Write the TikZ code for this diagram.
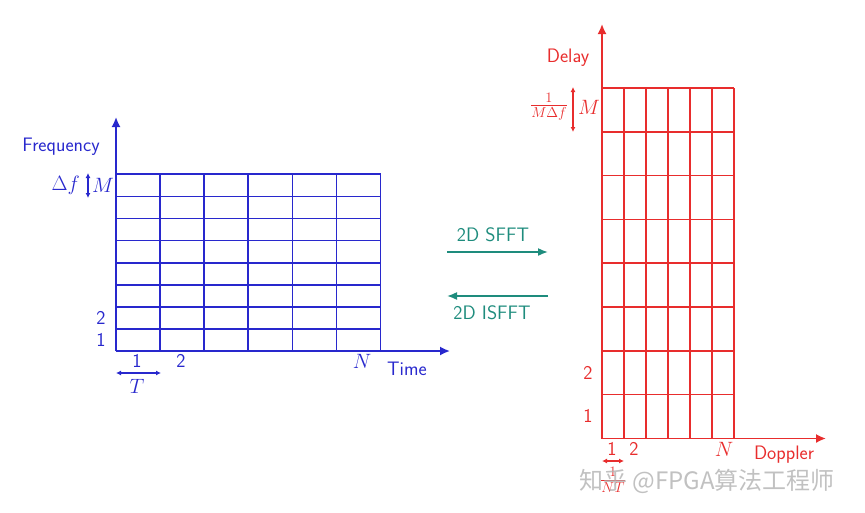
\documentclass[tikz,border=0pt]{standalone}
\usepackage{fontspec}
\newfontfamily\cjk{Noto Sans CJK SC}
\usetikzlibrary{arrows.meta}
\definecolor{gblue}{RGB}{40,40,205}
\definecolor{gred}{RGB}{232,45,45}
\definecolor{gteal}{RGB}{30,140,125}
\tikzset{
  lbl/.style={font=\sffamily\fontsize{19.5}{21}\selectfont, inner sep=0pt},
  mlbl/.style={font=\fontsize{20}{22}\selectfont, inner sep=0pt},
  gridline/.style={line width=1.7pt},
  axisline/.style={line width=1.7pt, -{Latex[length=10pt,width=9pt]}},
  dbl/.style={line width=1.4pt, {Latex[length=5pt,width=5pt]}-{Latex[length=5pt,width=5pt]}},
  conv/.style={gteal, line width=1.6pt, -{Latex[length=10pt,width=8pt]}},
}
\begin{document}
\begin{tikzpicture}[x=1pt,y=-1pt]
\useasboundingbox (0,0) rectangle (865,512);
% ---------- left (blue) time-frequency grid ----------
\begin{scope}[gblue]
  \foreach \i in {0,...,6} \draw[gridline] ({116+\i*44.1},174.3) -- ({116+\i*44.1},351);
  \foreach \j in {0,...,8} \draw[gridline] (116,{174.3+\j*22.09}) -- (380.7,{174.3+\j*22.09});
  \coordinate (lo) at (116,351);
  \coordinate (ltop) at (116,117);
  \coordinate (lright) at (450,351);
  \draw[axisline] (lo) -- (ltop);
  \draw[axisline] (lo) -- (lright);
  \node[lbl] (freq) at (61,147) {Frequency};
  \node[lbl] (time) at (407,369) {Time};
  \node[mlbl, anchor=east] (df) at (80,185) {$\Delta f$};
  \coordinate (dfa) at (88,173);
  \coordinate (dfb) at (88,198);
  \draw[dbl] (dfa) -- (dfb);
  \node[mlbl] (lM) at (103,185) {$M$};
  \node[lbl] (r2) at (101,318) {2};
  \node[lbl] (r1) at (101,340) {1};
  \node[lbl] (c1) at (137,361) {1};
  \node[lbl] (c2) at (181,361) {2};
  \node[mlbl] (lN) at (362,361) {$N$};
  \coordinate (ta) at (116,373);
  \coordinate (tb) at (161,373);
  \draw[dbl] (ta) -- (tb);
  \node[mlbl] (lT) at (137,386) {$T$};
\end{scope}
% ---------- middle arrows ----------
\node[lbl, gteal] (sfft) at (493,235) {2D SFFT};
\coordinate (s1) at (447,252);
\coordinate (s2) at (548,252);
\draw[conv] (s1) -- (s2);
\coordinate (i1) at (548,296);
\coordinate (i2) at (447,296);
\draw[conv] (i1) -- (i2);
\node[lbl, gteal] (isfft) at (492,313) {2D ISFFT};
% ---------- right (red) delay-Doppler grid ----------
\begin{scope}[gred]
  \foreach \i in {0,...,6} \draw[gridline] ({602+\i*22},88) -- ({602+\i*22},438.5);
  \foreach \j in {0,...,8} \draw[gridline] (602,{88+\j*43.8}) -- (734,{88+\j*43.8});
  \coordinate (ro) at (602,438.5);
  \coordinate (rtop) at (602,24);
  \coordinate (rright) at (826,438.5);
  \draw[axisline] (ro) -- (rtop);
  \draw[axisline] (ro) -- (rright);
  \node[lbl] (delay) at (568,58) {Delay};
  \node[lbl] (doppler) at (784,455) {Doppler};
  \node[mlbl] (mdf) at (549,107) {$\frac{1}{M\Delta f}$};
  \coordinate (da) at (573,87);
  \coordinate (db) at (573,132);
  \draw[dbl] (da) -- (db);
  \node[mlbl] (rM) at (589,107) {$M$};
  \node[lbl] (rr2) at (588,373) {2};
  \node[lbl] (rr1) at (588,416) {1};
  \node[lbl] (rc1) at (612,449) {1};
  \node[lbl] (rc2) at (634,449) {2};
  \node[mlbl] (rN) at (724,449) {$N$};
  \coordinate (na) at (602,461);
  \coordinate (nb) at (624,461);
  \draw[dbl] (na) -- (nb);
  \node[mlbl] (nt) at (613,480) {$\frac{1}{NT}$};
\end{scope}
% ---------- watermark ----------
\node[font=\cjk\fontsize{24}{26}\selectfont, text=black!30, opacity=0.8, inner sep=0pt] (wm) at (707,481) {知乎 @FPGA算法工程师};
\end{tikzpicture}
\end{document}
